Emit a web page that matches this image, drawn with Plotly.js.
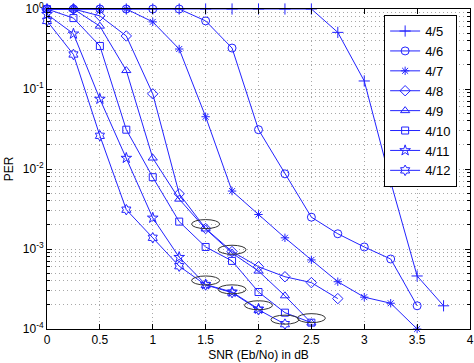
<!DOCTYPE html>
<html>
<head>
<meta charset="utf-8">
<script src="https://cdn.plot.ly/plotly-3.0.1.min.js"></script>
<style>html,body{margin:0;padding:0;background:#fff;}#chart{width:474px;height:363px;}</style>
</head>
<body>
<div id="chart"></div>
<script>
// Series names
var seriesNames = ['4/5', '4/6', '4/7', '4/8', '4/9', '4/10', '4/11', '4/12'];

// SNR (Eb/No) in dB for each series
var snr45  = [0, 0.25, 0.5, 0.75, 1, 1.25, 1.5, 1.75, 2, 2.25, 2.5, 2.75, 3, 3.25, 3.5, 3.75];
var snr46  = [0, 0.25, 0.5, 0.75, 1, 1.25, 1.5, 1.75, 2, 2.25, 2.5, 2.75, 3, 3.25, 3.5];
var snr47  = [0, 0.25, 0.5, 0.75, 1, 1.25, 1.5, 1.75, 2, 2.25, 2.5, 2.75, 3, 3.25, 3.5];
var snr48  = [0, 0.25, 0.5, 0.75, 1, 1.25, 1.5, 1.75, 2, 2.25, 2.5, 2.75];
var snr49  = [0, 0.25, 0.5, 0.75, 1, 1.25, 1.5, 1.75, 2, 2.25, 2.5];
var snr410 = [0, 0.25, 0.5, 0.75, 1, 1.25, 1.5, 1.75, 2, 2.25, 2.5];
var snr411 = [0, 0.25, 0.5, 0.75, 1, 1.25, 1.5, 1.75, 2];
var snr412 = [0, 0.25, 0.5, 0.75, 1, 1.25, 1.5, 1.75, 2, 2.25];

// PER values
var per45  = [1, 1, 1, 1, 1, 1, 1, 1, 1, 1, 1, 0.51, 0.126, 0.0069, 4.6e-4, 1.95e-4];
var per46  = [1, 1, 1, 1, 1, 1, 0.71, 0.325, 0.031, 0.0087, 0.0025, 0.00155, 0.00106, 7.5e-4, 1.95e-4];
var per47  = [1, 1, 1, 1, 0.69, 0.316, 0.045, 0.0053, 0.0027, 0.00138, 7.3e-4, 3.9e-4, 2.5e-4, 2.1e-4, 1.0e-4];
var per48  = [1, 1, 0.82, 0.46, 0.087, 0.0049, 0.0018, 9.3e-4, 6.0e-4, 4.5e-4, 3.8e-4, 2.4e-4];
var per49  = [1, 1, 0.61, 0.17, 0.0137, 0.0042, 0.00178, 8.9e-4, 5.3e-4, 2.6e-4, 1.19e-4];
var per410 = [1, 0.77, 0.345, 0.031, 0.0079, 0.0022, 0.00106, 7.1e-4, 2.9e-4, 1.6e-4, 1.2e-4];
var per411 = [0.86, 0.49, 0.075, 0.0137, 0.00245, 7.9e-4, 3.6e-4, 2.9e-4, 1.78e-4];
var per412 = [0.71, 0.27, 0.026, 0.0031, 0.00138, 6.1e-4, 3.55e-4, 2.85e-4, 1.74e-4, 1.15e-4];

// Highlighted (circled) points
var circledSnr = [1.5, 1.75, 1.5, 1.75, 2.0, 2.25, 2.5];
var circledPer = [1.8e-3, 8.6e-4, 3.55e-4, 2.75e-4, 1.74e-4, 1.15e-4, 1.2e-4];

// Y tick labels
var yTickVals = [1, 0.1, 0.01, 0.001, 0.0001];
var yTickText = ['10<sup>0</sup>', '10<sup>-1</sup>', '10<sup>-2</sup>', '10<sup>-3</sup>', '10<sup>-4</sup>'];

var xs = [snr45, snr46, snr47, snr48, snr49, snr410, snr411, snr412];
var ys = [per45, per46, per47, per48, per49, per410, per411, per412];
var symbols = ['cross-thin-open', 'circle-open', 'asterisk-open', 'diamond-open',
               'triangle-up-open', 'square-open', 'star-open', 'hexagram-open'];
var sizes = [8, 8, 7, 8, 8, 7, 8, 8];
var blue = 'rgb(35,35,255)';

var traces = seriesNames.map(function (n, i) {
  return {
    x: xs[i], y: ys[i], name: n, type: 'scatter', mode: 'lines+markers',
    cliponaxis: false,
    line: {color: blue, width: 1},
    marker: {symbol: symbols[i], size: sizes[i], color: blue, line: {color: blue, width: 1}}
  };
});

var shapes = circledSnr.map(function (x, i) {
  return {
    type: 'circle', xref: 'x', yref: 'y',
    xsizemode: 'pixel', ysizemode: 'pixel',
    xanchor: x, yanchor: circledPer[i],
    x0: -14, x1: 14, y0: -9, y1: 9,
    line: {color: '#333', width: 1}
  };
});

var gridCol = '#a8a8a8';
var dash = '1px,3px';
var font = {family: 'Liberation Sans, Arial, sans-serif', size: 12, color: '#000'};

var layout = {
  width: 474, height: 363,
  margin: {l: 47, r: 4, t: 9, b: 34, pad: 0},
  paper_bgcolor: '#fff', plot_bgcolor: '#fff',
  font: font,
  showlegend: true,
  legend: {
    x: 0.797, y: 0.981, xanchor: 'left', yanchor: 'top',
    bgcolor: '#fff', bordercolor: '#000', borderwidth: 1,
    font: {family: 'Liberation Sans, Arial, sans-serif', size: 13, color: '#000'},
    tracegroupgap: 0
  },
  xaxis: {
    range: [0, 4], dtick: 0.5, tick0: 0,
    showline: true, linecolor: '#000', linewidth: 1, mirror: 'ticks',
    ticks: 'inside', ticklen: 5, tickcolor: '#000',
    showgrid: true, gridcolor: gridCol, griddash: dash, gridwidth: 1,
    zeroline: false, tickfont: font,
    title: {text: 'SNR (Eb/No) in dB', font: font, standoff: 4}
  },
  yaxis: {
    type: 'log', range: [-4, 0],
    tickmode: 'array', tickvals: yTickVals, ticktext: yTickText,
    showline: true, linecolor: '#000', linewidth: 1, mirror: 'ticks',
    ticks: 'inside', ticklen: 5, tickcolor: '#000',
    showgrid: true, gridcolor: gridCol, griddash: dash, gridwidth: 1,
    minor: {dtick: 'D1', showgrid: true, gridcolor: gridCol, griddash: dash, gridwidth: 1,
            ticks: 'inside', ticklen: 3, tickcolor: '#000'},
    zeroline: false, tickfont: font,
    title: {text: 'PER', font: font, standoff: 6}
  },
  shapes: shapes
};

Plotly.newPlot('chart', traces, layout, {displayModeBar: false, staticPlot: true});
</script>
</body>
</html>
